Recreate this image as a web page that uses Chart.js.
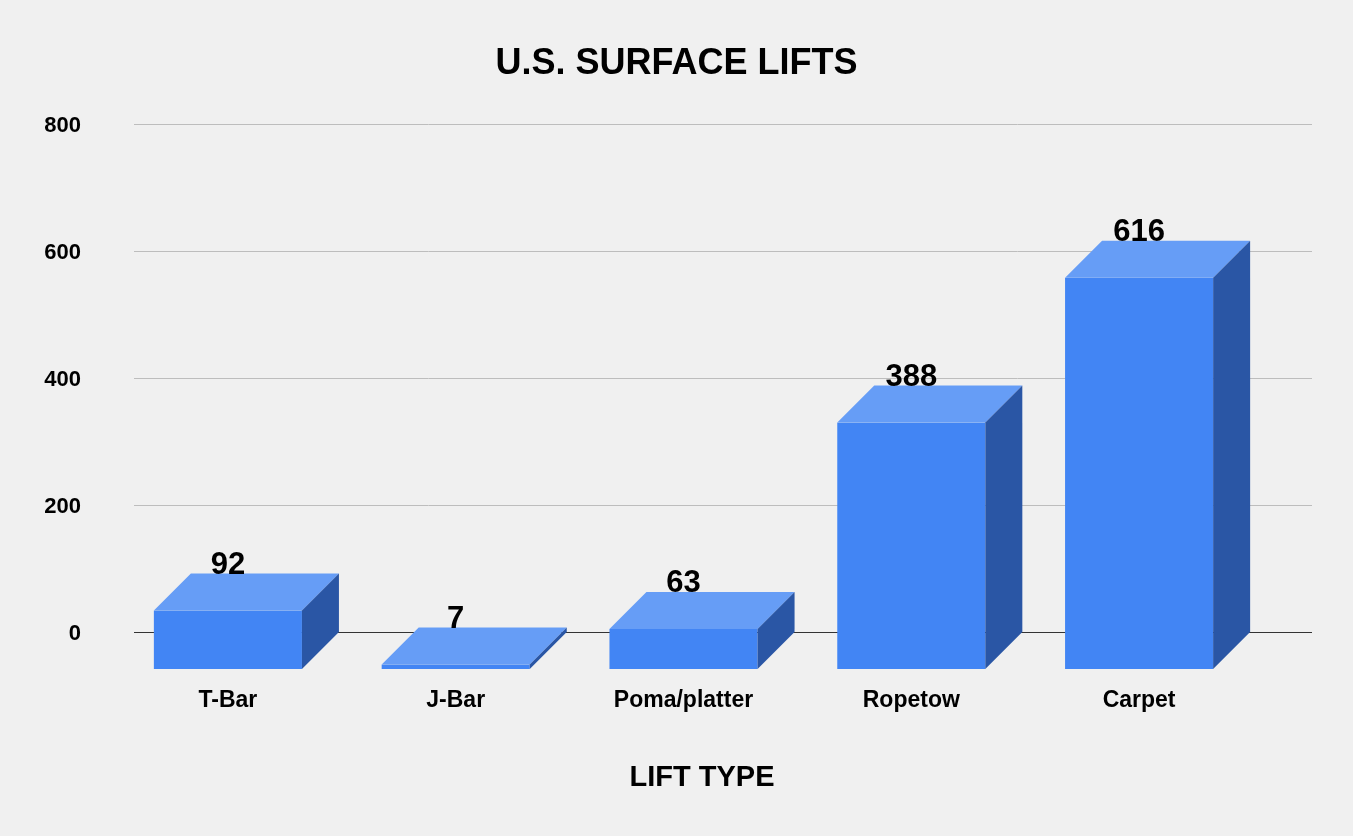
<!DOCTYPE html>
<html>
<head>
<meta charset="utf-8">
<title>U.S. Surface Lifts</title>
<script src="https://cdn.jsdelivr.net/npm/chart.js@4.4.1/dist/chart.umd.min.js"></script>
<style>
  html, body { margin: 0; padding: 0; background: #f0f0f0; }
  #wrap { width: 1353px; height: 836px; }
</style>
</head>
<body>
<div id="wrap"><canvas id="liftChart"></canvas></div>
<script>
// data
var categories = ['T-Bar', 'J-Bar', 'Poma/platter', 'Ropetow', 'Carpet'];
var liftCounts = [92, 7, 63, 388, 616];
var yTicks = [0, 200, 400, 600, 800];

// look of the fake 3d boxes
var DEPTH = 37;
var FRONT = '#4285f4', TOP = '#669df6', SIDE = '#2a56a5';

// grid lines, boxes, value labels and the two titles
var box3d = {
    id: 'box3d',
    beforeDatasetsDraw: function (chart) {
        var ctx = chart.ctx, y = chart.scales.y, area = chart.chartArea;
        ctx.save();
        yTicks.forEach(function (v) {
            var py = Math.round(y.getPixelForValue(v)) + 0.5;
            ctx.strokeStyle = v === 0 ? '#333333' : '#bdbdbd';
            ctx.lineWidth = 1;
            ctx.beginPath();
            ctx.moveTo(area.left + 20, py);
            ctx.lineTo(area.right + 59, py);
            ctx.stroke();
        });
        ctx.restore();
    },
    afterDatasetsDraw: function (chart) {
        var ctx = chart.ctx;
        var meta = chart.getDatasetMeta(0);
        ctx.save();
        meta.data.forEach(function (bar, i) {
            var p = bar.getProps(['x', 'y', 'base', 'width'], true);
            var l = p.x - p.width / 2, r = p.x + p.width / 2;
            var top = p.y, base = p.base, d = DEPTH;

            // front face
            ctx.fillStyle = FRONT;
            ctx.fillRect(l, top + d, r - l, base - top);

            // top face
            ctx.fillStyle = TOP;
            ctx.beginPath();
            ctx.moveTo(l, top + d);
            ctx.lineTo(l + d, top);
            ctx.lineTo(r + d, top);
            ctx.lineTo(r, top + d);
            ctx.closePath();
            ctx.fill();

            // side face
            ctx.fillStyle = SIDE;
            ctx.beginPath();
            ctx.moveTo(r, top + d);
            ctx.lineTo(r + d, top);
            ctx.lineTo(r + d, base);
            ctx.lineTo(r, base + d);
            ctx.closePath();
            ctx.fill();

            // value label
            ctx.fillStyle = '#000';
            ctx.font = 'bold 31px "Liberation Sans"';
            ctx.textAlign = 'center';
            ctx.textBaseline = 'alphabetic';
            ctx.fillText(String(liftCounts[i]), p.x, top);
        });
        ctx.restore();
    },
    afterDraw: function (chart) {
        var ctx = chart.ctx;
        ctx.save();
        ctx.fillStyle = '#000';
        ctx.textAlign = 'center';
        ctx.textBaseline = 'middle';
        // main title, centred on the whole canvas
        ctx.font = 'bold 36px "Liberation Sans"';
        ctx.fillText('U.S. SURFACE LIFTS', chart.width / 2, 64);
        // axis title sits a bit right of the band centre
        ctx.font = 'bold 29px "Liberation Sans"';
        ctx.fillText('LIFT TYPE', 702, 778);
        ctx.restore();
    }
};

var ctx = document.getElementById('liftChart');
var liftChart = new Chart(ctx, {
    type: 'bar',
    data: {
        labels: categories,
        datasets: [{
            label: 'Lifts',
            data: liftCounts,
            backgroundColor: 'rgba(0,0,0,0)',
            categoryPercentage: 1,
            barPercentage: 0.65
        }]
    },
    options: {
        responsive: true,
        maintainAspectRatio: false,
        animation: false,
        layout: { padding: { top: 124, right: 100, bottom: 0, left: 0 } },
        plugins: {
            legend: { display: false },
            tooltip: { enabled: false },
            title: { display: false }
        },
        scales: {
            x: {
                grid: { display: false, drawTicks: false },
                border: { display: false },
                ticks: {
                    color: '#000',
                    padding: 55,
                    font: { family: '"Liberation Sans"', size: 23, weight: 'bold' }
                },
                afterFit: function (scale) { scale.height = 204; }
            },
            y: {
                min: 0,
                max: 800,
                grid: { display: false, drawTicks: false },
                border: { display: false },
                ticks: {
                    stepSize: 200,
                    color: '#000',
                    padding: 33,
                    labelOffset: 2,
                    font: { family: '"Liberation Sans"', size: 22, weight: 'bold' }
                },
                afterFit: function (scale) { scale.width = 114; }
            }
        }
    },
    plugins: [box3d]
});
</script>
</body>
</html>
